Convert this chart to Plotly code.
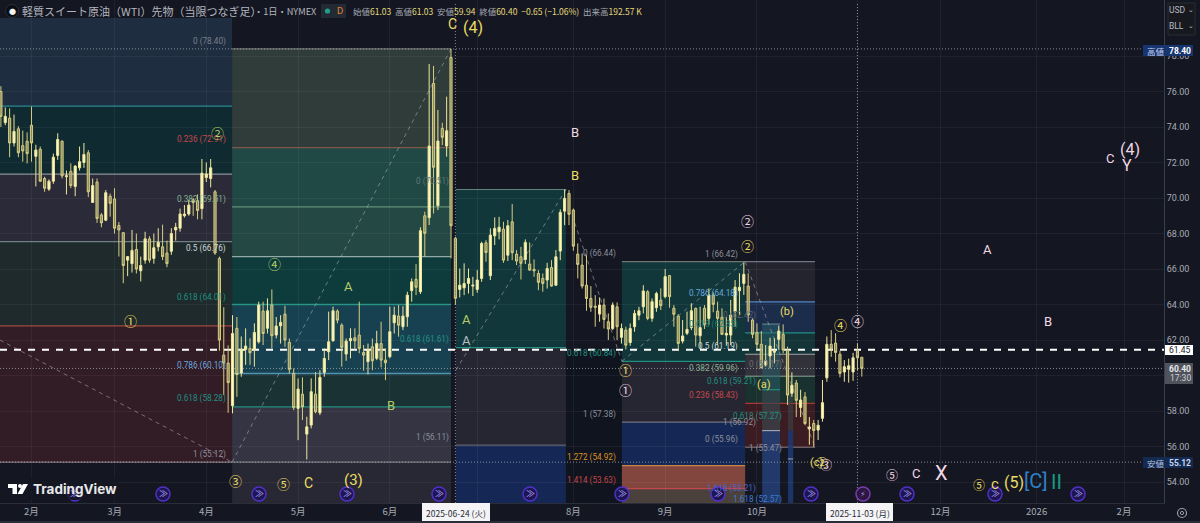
import pandas as pd
import plotly.graph_objects as go

# ---------- DATA ----------
holidays = ["2025-02-17", "2025-04-18", "2025-05-26", "2025-06-19", "2025-07-04", "2025-09-01",
            "2025-11-27", "2025-12-25", "2026-01-01", "2026-01-19"]
tick_dates = ["2025-02-03", "2025-03-03", "2025-04-01", "2025-05-01", "2025-06-02", "2025-07-01", "2025-08-01",
              "2025-09-02", "2025-10-01", "2025-11-03", "2025-12-01", "2026-01-02", "2026-02-02"]
# July and November sit behind the two date tags, as in the reference
tick_labels = ["2月", "3月", "4月", "5月", "6月", "", "8月", "9月", "10月", "", "12月", "2026", "2月"]
price_ticks = [54, 56, 58, 60, 62, 64, 66, 68, 70, 72, 74, 76, 78]
price_tick_labels = ["54.00", "56.00", "58.00", "", "62.00", "64.00", "66.00", "68.00", "70.00", "72.00", "74.00",
                     "76.00", "78.00"]

opens = [76.0,74.25,74.5,73.1,73.9,72.95,73.2,74.1,72.35,72.75,71.1,70.5,70.95,72.4,73.2,71.2,71.5,70.65,71.7,72.0,
 72.55,69.75,70.9,69.05,68.75,70.1,69.95,68.45,68.05,66.5,66.3,67.1,65.9,66.5,67.7,66.6,67.25,67.25,66.9,67.0,
 68.2,68.3,69.0,69.1,69.9,69.85,69.4,71.15,71.1,70.35,66.6,61.15,60.7,58.3,62.66,60.15,61.47,61.53,61.47,61.9,
 63.63,62.66,63.97,62.28,62.8,63.46,61.87,60.12,58.15,58.95,56.7,57.21,58.95,57.9,60.18,61.34,61.96,63.63,62.84,61.21,
 61.96,62.13,62.28,61.3,60.78,61.62,60.97,61.8,60.87,61.06,62.97,63.35,62.75,63.31,64.78,65.42,64.72,69.0,68.89,76.46,
 69.57,73.92,72.93,77.92,67.73,64.85,64.94,65.19,65.04,64.85,65.47,67.48,65.62,67.87,68.1,68.25,66.78,68.66,66.84,66.69,
 66.54,66.28,65.98,65.75,65.47,65.38,66.09,65.09,67.01,69.26,70.26,69.32,66.84,66.22,65.09,64.34,63.91,63.46,63.97,63.03,
 62.65,63.87,62.15,62.56,61.86,62.75,63.4,63.87,64.72,63.22,63.82,64.25,64.44,65.63,63.79,63.35,61.94,62.38,62.7,63.79,
 62.24,63.79,63.22,64.54,63.63,63.28,62.28,62.28,63.6,64.78,65.19,65.04,63.13,62.43,61.76,60.59,61.1,61.31,62.04,62.32,
 61.44,59.0,59.58,58.2,58.8,57.0,57.3,56.93,57.59,59.87,61.76,61.83,61.2,60.2,60.35,60.2,61.4,61.03]
highs = [76.3,75.1,75.05,74.7,74.05,73.8,73.7,75.15,73.0,72.9,71.2,71.05,72.5,73.65,73.25,71.55,71.95,71.85,72.9,73.1,
 72.7,71.1,71.1,69.15,70.45,70.25,70.55,68.65,68.05,66.7,68.2,68.0,66.7,68.1,67.85,68.0,68.3,68.5,67.6,68.3,
 68.6,69.4,69.6,69.9,70.0,70.2,72.2,72.0,72.2,70.45,66.7,63.85,61.7,63.4,63.3,62.2,62.66,62.1,62.94,64.16,
 64.16,64.35,64.85,63.3,63.4,63.93,62.09,60.4,59.84,59.9,57.68,59.84,60.2,60.3,61.53,63.6,63.88,63.73,62.94,62.09,
 62.66,62.66,64.16,61.72,61.8,62.09,62.52,63.03,61.53,63.88,63.88,63.97,63.91,64.72,65.47,66.28,68.35,69.23,77.55,77.44,
 74.96,74.24,75.71,78.4,67.82,66.03,66.32,66.03,65.56,65.94,67.54,67.63,68.29,68.91,68.94,68.66,68.76,69.66,67.07,67.25,
 67.67,67.5,66.54,65.94,65.75,66.35,66.5,67.07,69.36,70.48,70.45,69.41,67.44,66.88,66.78,65.04,64.53,64.4,64.34,63.5,
 64.12,64.12,62.93,62.75,62.93,63.69,63.87,65.09,64.81,64.34,64.72,64.91,66.0,65.66,63.97,63.45,63.13,63.6,64.07,63.82,
 63.88,63.97,64.91,64.69,64.16,63.79,63.3,64.26,65.38,65.76,66.38,65.76,63.22,62.94,62.51,61.72,62.13,62.1,62.81,62.88,
 61.63,60.18,59.75,59.2,59.07,57.66,57.5,57.5,59.75,62.2,62.56,62.38,61.4,60.87,60.95,61.28,61.81,61.03]
lows = [74.0,74.1,72.3,72.9,72.3,72.05,71.95,72.05,70.65,70.9,70.35,70.4,70.8,72.15,71.1,70.2,70.55,70.1,71.55,71.7,
 70.05,69.75,68.6,68.35,68.7,68.95,68.0,66.7,65.2,65.6,65.8,65.75,65.3,66.3,66.35,66.3,67.0,66.5,66.1,66.8,
 67.6,68.1,68.9,69.0,69.0,68.8,68.8,70.9,70.6,66.8,61.4,58.9,57.9,57.87,58.8,59.93,60.6,60.6,60.5,61.8,
 61.72,62.37,61.53,62.09,61.8,61.62,60.12,58.05,56.36,57.49,55.27,57.02,57.87,57.77,59.93,60.87,61.9,62.94,60.5,60.83,
 60.97,61.43,61.25,60.27,60.06,60.3,60.87,60.46,59.74,60.97,62.37,62.19,62.56,62.75,64.16,64.53,64.59,66.69,68.48,69.13,
 69.32,72.98,72.33,66.6,63.97,64.4,64.53,64.62,64.48,64.66,65.28,66.41,65.38,67.35,67.67,66.35,66.45,66.5,66.22,65.41,
 66.28,65.9,65.56,64.81,64.72,64.9,65.0,65.04,66.5,68.47,68.47,67.03,65.47,64.9,63.65,63.59,62.75,63.03,62.65,62.0,
 62.56,62.0,61.8,61.47,61.68,62.47,63.12,63.5,63.12,63.03,63.59,63.69,64.35,63.82,62.75,61.44,61.81,62.28,62.56,61.63,
 61.53,62.62,62.85,63.56,61.72,62.28,61.68,61.72,62.75,63.41,64.54,63.03,62.1,61.44,60.4,60.5,60.4,60.69,61.44,61.25,
 58.34,58.8,57.66,57.66,57.2,56.1,55.97,56.37,57.4,59.65,61.05,60.78,59.9,59.65,59.6,59.7,60.31,59.94]
closes = [74.6,74.6,73.1,73.75,72.55,72.65,72.5,73.1,72.7,70.95,70.55,70.95,72.3,73.3,71.25,71.25,70.7,71.8,72.05,72.45,
 70.35,70.7,68.85,68.6,70.3,69.7,68.3,68.2,66.2,66.7,67.05,66.0,66.2,67.7,66.5,67.2,67.5,66.7,66.3,68.0,
 68.35,69.1,69.1,69.6,69.75,69.3,71.4,71.35,71.7,66.9,62.0,60.7,59.6,62.37,60.06,61.47,61.66,61.28,62.43,63.97,
 62.37,63.65,62.24,62.79,62.99,62.0,60.35,58.19,59.24,58.24,57.11,59.09,57.96,59.9,60.96,61.9,63.65,63.12,61.59,61.94,
 62.09,61.96,61.53,61.15,61.47,60.83,61.8,60.87,60.72,62.47,63.4,62.84,63.35,64.53,65.28,64.97,68.16,68.01,72.93,71.73,
 73.21,73.42,73.79,68.44,64.35,65.09,65.19,65.47,65.09,65.38,67.44,66.93,67.91,68.29,68.36,66.5,68.44,66.92,66.45,66.32,
 67.5,65.94,65.9,65.25,65.19,66.03,65.04,66.69,69.19,69.98,69.08,67.29,66.26,65.04,64.34,63.84,63.84,63.97,63.16,62.62,
 63.97,62.75,62.65,61.71,62.65,63.5,63.65,64.76,63.22,64.16,64.62,63.94,65.57,64.44,63.45,61.81,62.23,62.6,63.65,62.28,
 62.7,62.85,64.54,64.01,63.22,62.32,62.38,63.41,64.97,64.97,65.7,63.41,62.32,61.76,60.44,60.84,61.66,61.38,62.51,61.44,
 58.9,59.46,58.6,58.62,57.3,57.1,56.9,57.2,58.47,61.76,61.5,61.3,60.12,60.5,60.55,61.0,61.0,60.4]

# ---------- CALENDAR -> BAR INDEX ----------
calendar = [d for d in pd.bdate_range("2025-01-23", "2026-03-31") if d.strftime("%Y-%m-%d") not in holidays]
bar_of = {d.strftime("%Y-%m-%d"): i for i, d in enumerate(calendar)}
bar_x = list(range(len(closes)))
tick_pos = [bar_of[d] for d in tick_dates]
cross_a = bar_of["2025-06-24"]
cross_b = bar_of["2025-11-03"]

PW, PH = 1164, 503
BG = "#141722"
JP = "Noto Sans CJK JP, Roboto, sans-serif"
LAT = "Roboto, Noto Sans CJK JP, sans-serif"
YMIN, YMAX = 52.82, 81.155
XMIN, XMAX = -0.206, 266.15

fig = go.Figure()
fig.add_trace(go.Candlestick(
    x=bar_x, open=opens, high=highs, low=lows, close=closes,
    increasing=dict(fillcolor="#fffac4", line=dict(color="#efe79c", width=1)),
    decreasing=dict(fillcolor="rgba(150,146,100,0.9)", line=dict(color="#d6cd80", width=1)),
    whiskerwidth=0, showlegend=False, hoverinfo="skip"))

shapes, annos = [], []


def zone(x0, x1, p0, p1, fill):
    shapes.append(dict(type="rect", xref="x", yref="y", x0=x0, x1=x1, y0=p0, y1=p1,
                       fillcolor=fill, line=dict(width=0), layer="below"))


def level(x0, x1, p, color, width=1):
    shapes.append(dict(type="line", xref="x", yref="y", x0=x0, x1=x1, y0=p, y1=p,
                       line=dict(color=color, width=width), layer="below"))


def diag(x0, p0, x1, p1):
    shapes.append(dict(type="line", xref="x", yref="y", x0=x0, x1=x1, y0=p0, y1=p1,
                       line=dict(color="rgba(175,180,190,0.55)", width=1, dash="4px,4px"), layer="below"))


def px_rect(x0, y0, x1, y1, fill, line=None, layer="above"):
    shapes.append(dict(type="rect", xref="paper", yref="paper", x0=x0 / PW, x1=x1 / PW,
                       y0=1 - y1 / PH, y1=1 - y0 / PH, fillcolor=fill,
                       line=dict(color=line or fill, width=1 if line else 0), layer=layer))


def px_circle(cx, cy, r, fill, line, width=1.5):
    shapes.append(dict(type="circle", xref="paper", yref="paper", x0=(cx - r) / PW, x1=(cx + r) / PW,
                       y0=1 - (cy + r) / PH, y1=1 - (cy - r) / PH, fillcolor=fill,
                       line=dict(color=line, width=width), layer="above"))


def px_poly(points, fill):
    d = "M " + " L ".join(f"{x / PW:.5f} {1 - y / PH:.5f}" for x, y in points) + " Z"
    shapes.append(dict(type="path", xref="paper", yref="paper", path=d, fillcolor=fill,
                       line=dict(width=0), layer="above"))


def text(px, py, s, color="#b2b5be", size=10, anchor="center", font=LAT, **kw):
    annos.append(dict(xref="paper", yref="paper", x=px / PW, y=1 - py / PH, text=s, showarrow=False,
                      xanchor=anchor, yanchor="middle", align=anchor, borderpad=0,
                      font=dict(color=color, size=size, family=font), **kw))


# Fibonacci blocks (bar index, price)
L0, L1 = XMIN, 52.9          # block A
zone(L0, L1, 78.4, 80.14, "#1f2d40")
zone(L0, L1, 75.18, 78.4, "#1f2d40")
zone(L0, L1, 71.35, 75.18, "#0f2a30")
zone(L0, L1, 67.54, 71.35, "#2a2a38")
zone(L0, L1, 62.8, 67.54, "#1e2a2c")
zone(L0, L1, 55.12, 62.8, "#321c26")
level(L0, L1, 75.18, "#28888c", 1.2)
level(L0, L1, 71.35, "#8a9098", 1.2)
level(L0, L1, 67.54, "#6f8080", 1.2)
level(L0, L1, 62.8, "#a04a40", 1.2)
level(L0, L1, 55.12, "#806f76", 1.2)

B0, B1 = 52.9, 103.0         # block B
zone(B0, B1, 72.84, 78.4, "#303c3a")
zone(B0, B1, 69.5, 72.84, "#204844")
zone(B0, B1, 66.7, 69.5, "#244844")
zone(B0, B1, 64.0, 66.7, "#0e3b3c")
zone(B0, B1, 60.12, 64.0, "#174050")
zone(B0, B1, 58.24, 60.12, "#1a3234")
zone(B0, B1, 55.12, 58.24, "#343442")
zone(B0, B1, YMIN, 55.12, "#282834")
level(B0, B1, 78.4, "#6a706e", 1.2)
level(B0, B1, 72.84, "#80584a", 1.2)
level(B0, B1, 69.5, "#5f9078", 1.2)
level(B0, B1, 66.7, "#93aba6", 1.2)
level(B0, B1, 64.0, "#1f9080", 1.5)
level(B0, B1, 60.12, "#4f95b5", 1.5)
level(B0, B1, 58.24, "#1f9080", 1.2)
level(B0, B1, 55.12, "#75757f", 1.2)

C0, C1 = 104.1, 129.3        # block C
zone(C0, C1, 61.57, 70.48, "#11373a")
zone(C0, C1, 56.08, 61.57, "#262632")
zone(C0, C1, YMIN, 56.08, "#152855")
level(C0, C1, 70.48, "#64827c", 1.2)
level(C0, C1, 61.57, "#1f9080", 1.2)
level(C0, C1, 56.08, "#62626f", 1.2)

D0, D1 = 129.3, 142.1        # block D
zone(D0, D1, YMIN, 61.2, "#10141e")

E0, E1 = 142.1, 170.3        # block E
zone(E0, E1, 60.8, 66.42, "#11373a")
zone(E0, E1, 57.38, 60.8, "#262632")
zone(E0, E1, 54.92, 57.38, "#152855")
zone(E0, E1, 53.63, 54.92, "#82463e")
zone(E0, E1, YMIN, 53.63, "#4b413c")
level(E0, E1, 66.42, "#6e7472", 1.2)
level(E0, E1, 60.8, "#1f9080", 1.2)
level(E0, E1, 57.38, "#707080", 1.2)
level(E0, E1, 54.92, "#c88448", 1.2)
level(E0, E1, 53.63, "#c04848", 1.2)

F0, F1 = 170.3, 186.3        # block F
zone(F0, F1, 64.15, 66.42, "#24242e")
zone(F0, F1, 62.4, 64.15, "#1c2c4b")
zone(F0, F1, 61.2, 62.4, "#143437")
zone(F0, F1, 59.96, 61.2, "#32323a")
zone(F0, F1, 58.43, 59.96, "#19322f")
zone(F0, F1, 55.96, 58.43, "#3c1c23")
level(F0, F1, 66.42, "#747480", 1.2)
level(F0, F1, 64.15, "#5285c4", 1.2)
level(F0, F1, 62.4, "#1f9080", 1.2)
level(F0, F1, 61.2, "#a0a4a8", 1.2)
level(F0, F1, 59.96, "#80a08a", 1.2)
level(F0, F1, 58.43, "#a83838", 1.2)
level(F0, F1, 55.96, "#80767e", 1.2)

G0, G1 = 174.2, 178.3        # narrow block G
zone(G0, G1, 59.2, 62.9, "rgba(40,95,105,0.55)")
zone(G0, G1, 56.9, 59.2, "rgba(55,70,75,0.7)")
zone(G0, G1, YMIN, 56.9, "rgba(35,65,120,0.85)")
level(G0, G1, 62.9, "#6a8a90", 1)
level(G0, G1, 59.2, "#1f9080", 1.2)
level(G0, G1, 56.9, "#a0a4b0", 1.2)

H0, H1 = 180.1, 181.3        # narrow block H
zone(H0, H1, 56.9, 59.2, "rgba(60,70,70,0.6)")
zone(H0, H1, YMIN, 56.9, "rgba(30,55,110,0.9)")
level(H0, H1, 55.3, "#a0a4b0", 1)

# trend lines
diag(XMIN, 62.0, L1, 55.12)
diag(L1, 55.12, B1, 78.4)
diag(C0, 60.3, C1, 70.48)
diag(131.3, 68.6, E0, 60.8)
diag(E0, 60.8, E1, 66.42)
diag(E1, 66.42, F1, 55.96)

# price lines
cross = dict(color="rgba(170,175,185,0.75)", width=1, dash="1px,2px")
shapes.append(dict(type="line", xref="x", yref="y", x0=XMIN, x1=XMAX, y0=78.4, y1=78.4, line=cross, layer="below"))
shapes.append(dict(type="line", xref="x", yref="y", x0=XMIN, x1=XMAX, y0=55.12, y1=55.12, line=cross, layer="below"))
shapes.append(dict(type="line", xref="x", yref="y", x0=XMIN, x1=XMAX, y0=60.4, y1=60.4, line=cross, layer="below"))
shapes.append(dict(type="line", xref="x", yref="y", x0=cross_a, x1=cross_a, y0=YMIN, y1=81.0, line=cross, layer="above"))
shapes.append(dict(type="line", xref="x", yref="y", x0=cross_b, x1=cross_b, y0=YMIN, y1=81.0, line=cross, layer="above"))
shapes.append(dict(type="line", xref="x", yref="y", x0=XMIN, x1=XMAX, y0=61.45, y1=61.45,
                   line=dict(color="#ffffff", width=2, dash="7px,7px"), layer="below"))

# fib labels: right edge, centre height
DIM, GRY, RED, GRN, WHT, TEAL, BLU = "#7c7f8a", "#8b8e98", "#c8464c", "#86b08e", "#d4d6da", "#1f9080", "#6ba6dd"
for r, y, s, c in [
    (227, 41, "0 (78.40)", DIM), (227, 139, "0.236 (72.91)", RED), (227, 199, "0.382 (69.51)", GRN),
    (227, 248, "0.5 (66.76)", WHT), (227, 297, "0.618 (64.01)", TEAL), (227, 365, "0.786 (60.10)", BLU),
    (227, 398, "0.618 (58.28)", TEAL), (227, 454, "1 (55.12)", GRY),
    (450, 181, "0 (70.51)", "#5f7a78"), (450, 339, "0.618 (61.61)", TEAL), (450, 437, "1 (56.11)", GRY),
    (617, 253, "0 (66.44)", GRY), (739, 254, "1 (66.42)", GRY), (617, 353, "0.618 (60.84)", TEAL),
    (617, 414, "1 (57.38)", GRY), (617, 457, "1.272 (54.92)", "#d9902a"), (617, 480, "1.414 (53.63)", RED),
    (739, 293, "0.786 (64.18)", BLU), (757, 315, "0 (62.42)", "#5f6270"), (739, 324, "0.618 (62.85)", "#1d7d70"),
    (739, 346, "0.5 (61.19)", WHT), (739, 368, "0.382 (59.96)", GRN), (757, 381, "0.618 (59.21)", TEAL),
    (739, 395, "0.236 (58.43)", RED), (783, 416, "0.618 (57.27)", TEAL), (757, 422, "1 (56.92)", GRY),
    (739, 439, "0 (55.96)", GRY), (783, 448, "1 (55.47)", GRY), (783, 364, "0 (60.17)", "#6a6d78"),
    (757, 488, "1.618 (53.21)", "#4a62c8"), (783, 499, "1.618 (52.57)", "#3f7ad0"),
]:
    text(r, y, s, c, 8.2, "right")

# Elliott wave labels
YEL, LIM, PNK = "#ecdc62", "#b4cc68", "#f2d8e2"
for x, y, s, c, z in [
    (217, 132, "②", LIM, 13), (130, 320, "①", YEL, 13), (274, 263, "④", LIM, 13), (235, 480, "③", YEL, 13),
    (283, 483, "⑤", YEL, 13), (308, 483, "C", YEL, 14), (354, 480, "(3)", YEL, 15), (348, 286, "A", LIM, 13),
    (391, 405, "B", LIM, 13), (452, 24, "C", YEL, 14), (473, 27, "(4)", YEL, 16), (575, 132, "B", PNK, 13),
    (575, 175, "B", YEL, 13), (747, 220, "②", PNK, 13), (747, 245, "②", YEL, 13), (466, 319, "A", LIM, 13),
    (466, 340, "A", "#b8bcc0", 13), (625, 369, "①", YEL, 13), (625, 389, "①", PNK, 13), (787, 311, "(b)", YEL, 11),
    (764, 384, "(a)", YEL, 11), (840, 324, "④", YEL, 13), (857, 320, "④", PNK, 13), (817, 462, "(c)", YEL, 11),
    (822, 462, "②", YEL, 12), (826, 464, "③", PNK, 12), (892, 474, "⑤", PNK, 12), (916, 473, "C", PNK, 13),
    (941, 473, "X", PNK, 20), (979, 484, "⑤", YEL, 12), (995, 484, "c", YEL, 15), (1014, 482, "(5)", YEL, 16),
    (1036, 481, "[C]", "#2f80c8", 20), (1056, 482, "II", "#1a9a80", 20), (987, 249, "A", PNK, 13),
    (1048, 321, "B", PNK, 13), (1110, 158, "C", PNK, 13), (1130, 149, "(4)", PNK, 16), (1127, 165, "Y", PNK, 16),
]:
    text(x, y, s, c, z, font=JP if s in "①②③④⑤" else LAT)

# event icons
for x in [75, 163, 259, 347, 439, 530, 622, 718, 811, 907, 995, 1078]:
    px_circle(x, 494, 7, "#1c1750", "#5230c8")
    text(x, 493.5, "≫", "#b4a0ff", 9, font=JP)
px_circle(863, 494, 7, "#2a1840", "#7a3ab0")
text(863, 494, "⚡", "#c080e8", 8, font="DejaVu Sans")

# TradingView mark
px_rect(0, 478, 118, 500, "rgba(20,23,34,0.75)")
px_poly([(8, 484), (17, 484), (17, 494), (12.5, 494), (12.5, 488), (8, 488)], "#ffffff")
px_circle(20, 486, 2, "#ffffff", "#ffffff", 0)
px_poly([(23, 484), (28, 484), (22.5, 494), (17.5, 494)], "#ffffff")
text(32, 489, "<b>TradingView</b>", "#e8e8ea", 13.5, "left", font="Inter, Roboto, sans-serif")

# header
px_circle(12, 11, 6.5, "#0b0d14", "#2a2e39", 1)
text(12, 11, "●", "#f2f2f2", 7, font=JP)
text(21, 11, "軽質スイート原油（WTI）先物（当限つなぎ足）", "#b2b5be", 11, "left", font=JP)
text(253, 11, "・1日・NYMEX", "#b2b5be", 9.2, "left", font=JP)
px_rect(321, 4, 346, 18, "#242a33")
px_circle(327.5, 11, 2.6, "#1fa08c", "#1fa08c", 0)
text(339.5, 11, "D", "#e0842a", 9.5, font=LAT)
V = "#e6d87a"
ohlc_head = "".join(f'{k}<span style="color:{V}">{v}</span>  ' for k, v in
                    [("始値", "61.03"), ("高値", "61.03"), ("安値", "59.94"), ("終値", "60.40")])
text(352, 11, ohlc_head + f'<span style="color:{V}">−0.65 (−1.06%)</span>  出来高<span style="color:{V}">192.57 K</span>',
     "#a6a9b2", 8.5, "left", font=JP)

# right hand tags
px_rect(1143, 45, 1193, 56, "#17356e")
text(1156, 50.5, "高値", "#c6d4f2", 8.5, font=JP)
text(1180, 50.5, "<b>78.40</b>", "#ffffff", 8.5)
px_rect(1143, 457, 1193, 468, "#142a50")
text(1156, 462.5, "安値", "#b6c4e0", 8.5, font=JP)
text(1180, 462.5, "<b>55.12</b>", "#c8d4ec", 8.5)
px_rect(1165, 345, 1193, 355, "#ffffff")
text(1180, 350, "61.45", "#202028", 8.5)
px_rect(1165, 363, 1193, 384, "#50535c")
text(1180, 369, "<b>60.40</b>", "#e6e6ea", 8.5)
text(1180, 378, "17:30", "#d0d0d6", 8.5)
px_rect(1168, 3, 1195, 35, "#17191f", "#2a2d34")
text(1177, 10, "USD", "#b8bac2", 8.5)
text(1191, 10, "⌄", "#b8bac2", 7, font="DejaVu Sans")
text(1176, 26, "BLL", "#b8bac2", 8.5)
text(1191, 26, "⌄", "#b8bac2", 7, font="DejaVu Sans")

# date tags
for l, r, s in [(422, 490, "2025-06-24 (火)"), (826, 893, "2025-11-03 (月)")]:
    px_rect(l, 503, r, 521, "#f4f4f6")
    text((l + r) / 2, 513, s, "#2a2c34", 8.5, font=JP)

# settings icon
px_circle(1182, 513, 4.5, BG, "#9a9da6", 1.2)
px_circle(1182, 513, 1.6, BG, "#9a9da6", 1)

# bottom edge
px_rect(0, 521, 1200, 523, "#2a2e39")

fig.update_layout(
    width=1200, height=523, margin=dict(l=0, r=36, t=0, b=20, autoexpand=False),
    paper_bgcolor=BG, plot_bgcolor=BG, showlegend=False,
    font=dict(family=JP, color="#b2b5be", size=10),
    shapes=shapes, annotations=annos,
    xaxis=dict(range=[XMIN, XMAX], tickvals=tick_pos, ticktext=tick_labels, rangeslider=dict(visible=False),
               showgrid=True, gridcolor="rgba(255,255,255,0.05)", zeroline=False, showline=True,
               linecolor="#2a2e39", ticks="", tickfont=dict(size=9.5, color="#a8abb4", family=JP)),
    yaxis=dict(range=[YMIN, YMAX], side="right", tickvals=price_ticks, ticktext=price_tick_labels,
               showgrid=True, gridcolor="rgba(255,255,255,0.05)",
               zeroline=False, showline=True, linecolor="#3a3e49", ticks="",
               tickfont=dict(size=9, color="#a8abb4", family=LAT)),
)

fig.write_html("out.html", config=dict(displayModeBar=False),
               post_script="document.body.style.margin='0';document.body.style.background='#141722';")
